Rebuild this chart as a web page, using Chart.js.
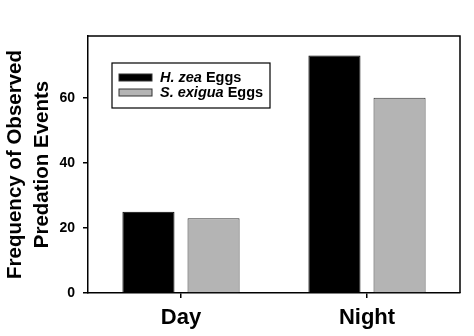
<!DOCTYPE html>
<html>
<head>
<meta charset="utf-8">
<script src="https://cdn.jsdelivr.net/npm/chart.js@4/dist/chart.umd.min.js"></script>
<style>
  html, body { margin: 0; padding: 0; background: #fff; }
  #wrap { width: 474px; height: 336px; position: relative; }
</style>
</head>
<body>
<div id="wrap"><canvas id="chart"></canvas></div>
<script>
/* ── data ── */
const categories = ['Day', 'Night'];
const hzeaEggs   = [25, 73];
const sexiguaEggs = [23, 60];
const seriesNames = [['H. zea', ' Eggs'], ['S. exigua', ' Eggs']];
const yTicks = [0, 20, 40, 60];
const yMax = 79;

const FONT = "'Liberation Sans', Arial, sans-serif";

// box around plot + inset legend
const framePlugin = {
  id: 'frame',
  afterDraw(chart) {
    const { ctx, chartArea: a } = chart;
    ctx.save();
    ctx.strokeStyle = '#000';
    ctx.lineWidth = 1.5;
    ctx.beginPath();
    ctx.moveTo(a.left, a.top);
    ctx.lineTo(a.right, a.top);
    ctx.lineTo(a.right, a.bottom);
    ctx.stroke();

    // legend
    const lx = a.left + 24, ly = a.top + 27, lw = 158, lh = 45;
    ctx.lineWidth = 1.2;
    ctx.fillStyle = '#fff';
    ctx.fillRect(lx, ly, lw, lh);
    ctx.strokeRect(lx, ly, lw, lh);
    const colors = ['#000', '#b4b4b4'];
    seriesNames.forEach((nm, i) => {
      const y = ly + 15 + i * 15;
      ctx.fillStyle = colors[i];
      ctx.fillRect(lx + 7, y - 4, 33, 7);
      ctx.strokeStyle = '#333';
      ctx.lineWidth = 1;
      ctx.strokeRect(lx + 7, y - 4, 33, 7);
      ctx.fillStyle = '#000';
      ctx.textBaseline = 'middle';
      ctx.textAlign = 'left';
      ctx.font = `italic bold 14.5px ${FONT}`;
      ctx.fillText(nm[0], lx + 48, y);
      const w = ctx.measureText(nm[0]).width;
      ctx.font = `bold 14.5px ${FONT}`;
      ctx.fillText(nm[1], lx + 48 + w, y);
    });
    ctx.restore();
  }
};

new Chart(document.getElementById('chart'), {
  type: 'bar',
  data: {
    labels: categories,
    datasets: [
      { label: 'H. zea Eggs', data: hzeaEggs, backgroundColor: '#000', borderColor: '#000', borderWidth: 1 },
      { label: 'S. exigua Eggs', data: sexiguaEggs, backgroundColor: '#b4b4b4', borderColor: '#333', borderWidth: 1 }
    ]
  },
  options: {
    responsive: true, maintainAspectRatio: false, animation: false,
    layout: { padding: { top: 36, right: 14, left: 0, bottom: 0 } },
    categoryPercentage: 0.7, barPercentage: 0.8,
    plugins: { legend: { display: false }, tooltip: { enabled: false } },
    scales: {
      x: {
        grid: { display: true, drawOnChartArea: false, offset: false, color: '#000', tickLength: 5, lineWidth: 1.5 },
        border: { color: '#000', width: 1.5 },
        ticks: { color: '#000', font: { family: FONT, size: 22, weight: 'bold' }, padding: 7 },
        afterFit: s => { s.height = 43; }
      },
      y: {
        min: 0, max: yMax,
        grid: { display: true, drawOnChartArea: false, color: '#000', tickLength: 5, lineWidth: 1.5 },
        border: { color: '#000', width: 1.5 },
        ticks: { color: '#000', font: { family: FONT, size: 14, weight: 'bold' }, padding: 8, stepSize: 20 },
        afterBuildTicks: s => { s.ticks = yTicks.map(v => ({ value: v })); },
        title: {
          display: true,
          text: ['Frequency of Observed', 'Predation Events'],
          color: '#000',
          font: { family: FONT, size: 20.5, weight: 'bold', lineHeight: 1.3 },
          padding: { top: 2, bottom: 4 }
        },
        afterFit: s => { s.width = 88; }
      }
    }
  },
  plugins: [framePlugin]
});
</script>
</body>
</html>
